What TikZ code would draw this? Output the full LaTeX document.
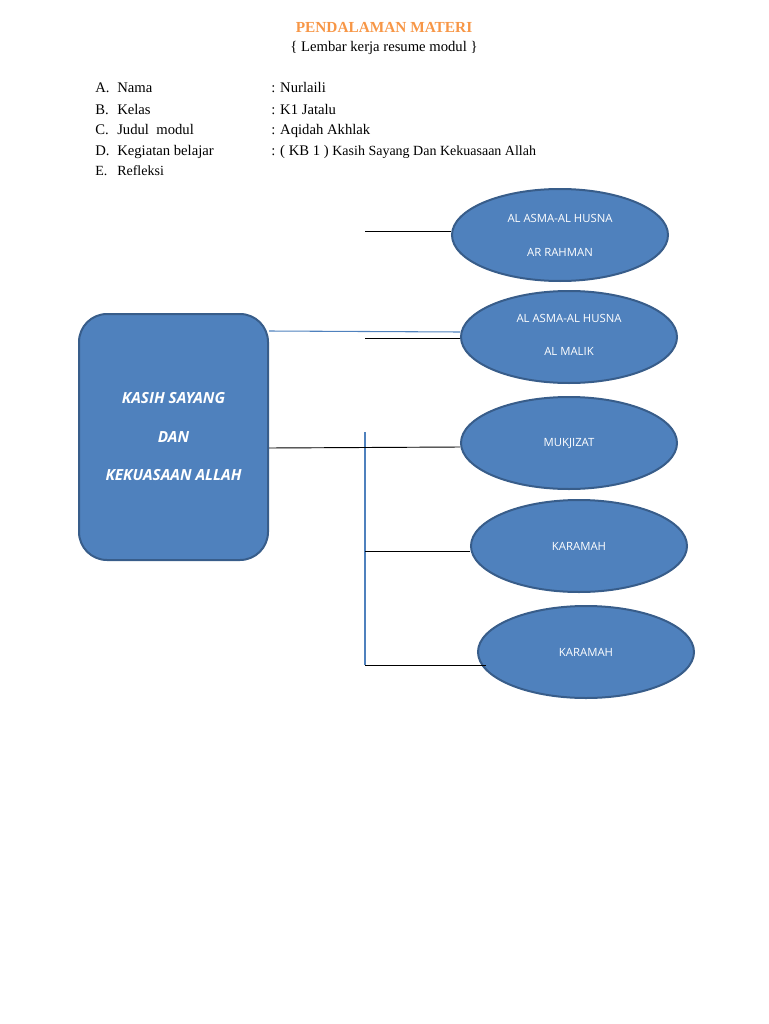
\documentclass[tikz,border=0pt]{standalone}
\usepackage{fontspec}
\setmainfont{Liberation Serif}
\newfontfamily\osans{Open Sans}
\usetikzlibrary{shapes.geometric}
\definecolor{fillb}{HTML}{4F81BD}
\definecolor{edgeb}{HTML}{385D8A}
\definecolor{orng}{HTML}{F79646}
\begin{document}
\begin{tikzpicture}[x=0.75pt,y=-0.75pt,
  ell/.style={ellipse,draw=edgeb,line width=1.5pt,fill=fillb,minimum width=162pt,minimum height=69pt,inner sep=0pt},
  etxt/.style={text=white,font=\osans\fontsize{8.5}{10}\selectfont},
  lst/.style={anchor=base west,inner sep=0pt,font=\fontsize{11}{13}\selectfont},
  conn/.style={black,line width=0.7pt},
  bconn/.style={fillb,line width=0.8pt}]
\useasboundingbox (0,0) rectangle (768,1024);
\node[text=orng,font=\bfseries\fontsize{11.5}{14}\selectfont] (title) at (384,27) {PENDALAMAN MATERI};
\node[font=\fontsize{11}{13}\selectfont] (sub) at (384,48) {\{ Lembar kerja resume modul \}};
\foreach \l/\t/\v/\y [count=\i] in {A./Nama/: Nurlaili/93, B./Kelas/: K1 Jatalu/114, C./Judul\ \ modul/: Aqidah Akhlak/134, D./Kegiatan belajar/{: ( KB 1 ) {\fontsize{10.5}{12}\selectfont Kasih Sayang Dan Kekuasaan Allah}}/155}{
  \node[lst] (l\i) at (95,\y) {\l};
  \node[lst] (t\i) at (117,\y) {\t};
  \node[lst] (v\i) at (271,\y) {\v};
}
\node[lst,font=\fontsize{10.5}{12}\selectfont] (l5) at (95,175) {E.};
\node[lst,font=\fontsize{10.5}{12}\selectfont] (t5) at (117,175) {Refleksi};

\node[draw=edgeb,line width=1.5pt,fill=fillb,rounded corners=21pt,minimum width=141.75pt,minimum height=184.5pt,inner sep=0pt] (main) at (173.5,437) {};
\foreach \y/\s in {398/KASIH SAYANG,437/DAN,475/KEKUASAAN ALLAH}
  \node[text=white,font=\osans\bfseries\itshape\fontsize{11.5}{14}\selectfont] at (173.5,\y) {\s};

\node[ell] (e1) at (560,235) {};
\node[etxt] at (560,218) {AL ASMA-AL HUSNA};
\node[etxt] at (560,252) {AR RAHMAN};
\node[ell] (e2) at (569,337) {};
\node[etxt] at (569,318) {AL ASMA-AL HUSNA};
\node[etxt] at (569,351) {AL MALIK};
\node[ell] (e3) at (569,443) {};
\node[etxt] at (569,443) {MUKJIZAT};
\node[ell] (e4) at (579,546) {};
\node[etxt] at (579,546) {KARAMAH};
\node[ell] (e5) at (586,652) {};
\node[etxt] at (586,652) {KARAMAH};

\coordinate (a1) at (365,231);
\coordinate (a2) at (365,338);
\coordinate (vt) at (365,432);
\coordinate (a4) at (365,551);
\coordinate (a5) at (365,665);
\draw[bconn] (vt) -- (a5);
\draw[conn] (a1) -- (e1.west |- a1);
\draw[bconn] (main.east |- 0,331) -- (e2.west |- 0,332);
\draw[conn] (a2) -- (e2.west |- a2);
\draw[conn] (main.east |- 0,448) -- (e3.west |- 0,447);
\draw[conn] (a4) -- (e4.west |- a4);
\draw[conn] (a5) -- (486,665);
\end{tikzpicture}
\end{document}
